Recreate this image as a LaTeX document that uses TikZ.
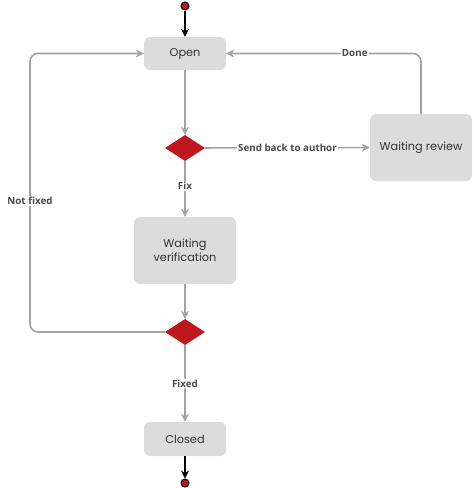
\documentclass[tikz,border=0pt]{standalone}
\usepackage{fontspec}
\setmainfont{Poppins}
\newfontfamily\lblfont{Open Sans}
\usetikzlibrary{shapes.geometric,arrows.meta}
\definecolor{boxgray}{HTML}{DCDCDC}
\definecolor{linegray}{HTML}{A3A3A3}
\definecolor{dred}{HTML}{C0171D}
\definecolor{txt}{HTML}{333333}
\definecolor{lbltxt}{HTML}{4A4A4A}
\tikzset{
  state/.style={draw=none, fill=boxgray, rounded corners=6pt, text=txt, font=\fontsize{11.3}{14}\selectfont, align=center, inner sep=0pt},
  choice/.style={diamond, fill=dred, draw=none, minimum width=40pt, minimum height=26pt, inner sep=0pt, aspect=1.5},
  flow/.style={draw=linegray, line width=1.6pt, -{Stealth[length=8pt,width=8pt]}, rounded corners=8pt},
  term/.style={circle, fill=dred, draw=black, line width=1pt, minimum size=8pt, inner sep=0pt},
  termflow/.style={draw=black, line width=1.6pt, -{Stealth[length=8pt,width=8pt]}},
  lbl/.style={fill=white, inner sep=1pt, text=lbltxt, font=\lblfont\bfseries\fontsize{9.8}{11}\selectfont}
}
\begin{document}
\begin{tikzpicture}[x=1pt,y=-1pt]
\useasboundingbox[fill=white] (0,0) rectangle (474,488);
\node[term] (start) at (185,6) {};
\node[state, minimum width=82pt, minimum height=33pt] (open) at (185,53.5) {Open};
\node[choice] (d1) at (185,148) {};
\node[state, minimum width=102pt, minimum height=67pt] (review) at (421,147.5) {Waiting review};
\node[state, minimum width=102pt, minimum height=67pt] (verif) at (185,250.5) {Waiting\\verification};
\node[choice] (d2) at (185,332) {};
\node[state, minimum width=82pt, minimum height=34pt] (closed) at (185,439) {Closed};
\node[term] (end) at (185,483) {};
\coordinate (lt) at (30,332);
\coordinate (lb) at (30,53.5);
\coordinate (rt) at (421,53.5);

\draw[termflow] (start) -- (open);
\draw[flow] (open) -- (d1);
\draw[flow] (d1) -- node[lbl]{Send back to author} (review);
\draw[flow] (d1) -- node[lbl, pos=0.45]{Fix} (verif);
\draw[flow] (review.north) -- (rt) -- node[lbl, pos=0.34]{Done} (open.east);
\draw[flow] (verif) -- (d2);
\draw[flow] (d2.west) -- (lt) -- node[lbl, pos=0.47]{Not fixed} (lb) -- (open.west);
\draw[flow] (d2) -- node[lbl, pos=0.5]{Fixed} (closed);
\draw[termflow] (closed) -- (end);
\end{tikzpicture}
\end{document}
